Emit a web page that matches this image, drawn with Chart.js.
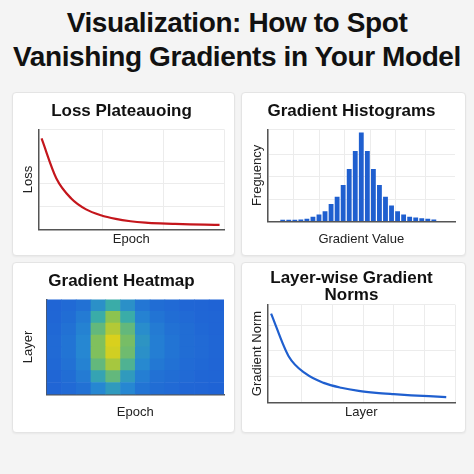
<!DOCTYPE html>
<html><head><meta charset="utf-8">
<script src="https://cdn.jsdelivr.net/npm/chart.js@4"></script>
<style>
body{margin:0;width:474px;height:474px;background:#f4f4f4;font-family:"Liberation Sans",Arial,sans-serif;overflow:hidden;position:relative}
h1{position:absolute;top:6px;left:0;width:474px;margin:0;text-align:center;font-size:28px;line-height:34px;font-weight:bold;color:#111;letter-spacing:-0.4px}
.card{position:absolute;background:#fff;border:1px solid #e4e4e4;border-radius:4px;box-shadow:0 1px 2px rgba(0,0,0,0.05)}
.card canvas{position:absolute;left:0;top:0}
</style></head><body>
<h1>Visualization: How to Spot<br>Vanishing Gradients in Your Model</h1>
<div class="card" style="left:12px;top:92px;width:221px;height:162px"><canvas id="c1"></canvas></div>
<div class="card" style="left:241px;top:92px;width:223px;height:162px"><canvas id="c2"></canvas></div>
<div class="card" style="left:12px;top:262px;width:221px;height:169px"><canvas id="c3"></canvas></div>
<div class="card" style="left:241px;top:262px;width:223px;height:169px"><canvas id="c4"></canvas></div>
<script>
const lossEpochs=[0,1,2,3,4,5,6,7,8,9,10,11,12];
const lossValues=[1,0.56,0.34,0.22,0.155,0.115,0.09,0.075,0.066,0.06,0.055,0.052,0.05];
const histBins=["-15","-14","-13","-12","-11","-10","-9","-8","-7","-6","-5","-4","-3","-2","-1","0","1","2","3","4","5","6","7","8","9","10","11","12","13","14","15"];
const histCounts=[0,0,5,5,5,6,8,15,22,32,55,78,115,165,222,280,222,165,115,78,50,32,22,15,12,10,8,6,0,0,0];
const heatEpochs=["1","2","3","4","5","6","7","8","9","10","11","12"];
const heatLayers=["1","2","3","4","5","6","7","8"];
const heatValues=[ // top row first
[.05,.08,.12,.30,.45,.30,.15,.10,.08,.06,.05,.04],
[.06,.10,.18,.45,.65,.45,.22,.14,.10,.08,.06,.05],
[.07,.12,.22,.55,.80,.55,.28,.18,.12,.10,.07,.05],
[.08,.14,.25,.62,.95,.60,.32,.20,.14,.10,.08,.06],
[.08,.14,.25,.62,.92,.58,.30,.20,.14,.10,.08,.06],
[.07,.12,.22,.55,.75,.50,.26,.16,.12,.09,.07,.05],
[.06,.10,.18,.40,.55,.35,.20,.12,.10,.08,.06,.05],
[.05,.08,.12,.25,.35,.25,.14,.10,.08,.06,.05,.04]];
const normLayers=[0,1,2,3,4,5,6,7,8,9,10];
const normValues=[1,0.52,0.32,0.22,0.165,0.13,0.108,0.093,0.08,0.07,0.06];

function mk(id,w,h){const c=document.getElementById(id);c.width=w;c.height=h;c.style.width=w+'px';c.style.height=h+'px';return c;}
const F='"Liberation Sans",Arial,sans-serif';
function titleOpt(t){return {display:true,text:t,color:'#111',font:{family:F,size:17,weight:'bold'},padding:{top:8,bottom:8}};}
function axTitle(t){return {display:true,text:t,color:'#222',font:{family:F,size:13},padding:{top:2,bottom:2}};}
const grid={color:'#ececec',drawTicks:false};
const border={color:'#555',width:1.5};
const base={responsive:false,animation:false,plugins:{legend:{display:false},tooltip:{enabled:false}}};

new Chart(mk('c1',221,162),{type:'line',data:{datasets:[{data:lossEpochs.map((x,i)=>({x,y:lossValues[i]})),borderColor:'#c4161c',borderWidth:2.2,pointRadius:0,tension:0.4,cubicInterpolationMode:'monotone'}]},
options:{...base,layout:{padding:{left:6,right:10,bottom:6}},plugins:{...base.plugins,title:titleOpt('Loss Plateauoing')},
scales:{x:{type:'linear',min:-0.2,max:12.3,grid,border,ticks:{display:false,stepSize:4.1},title:axTitle('Epoch')},
y:{min:0,max:1.1,grid,border,ticks:{display:false,stepSize:0.25},title:axTitle('Loss')}}}});

new Chart(mk('c2',223,162),{type:'bar',data:{labels:histBins,datasets:[{data:histCounts,backgroundColor:'#1f5fcf',barPercentage:0.8,categoryPercentage:1}]},
options:{...base,layout:{padding:{left:6,right:10,bottom:6}},plugins:{...base.plugins,title:titleOpt('Gradient Histograms')},
scales:{x:{grid:{display:false},border,ticks:{display:false},title:axTitle('Gradient Value')},
xg:{type:'linear',position:'bottom',min:0,max:6.3,display:true,grid,border:{display:false},ticks:{display:false,stepSize:1},title:{display:false}},
y:{min:0,max:290,grid,border,ticks:{display:false,stepSize:70},title:axTitle('Freguency')}}}});

const stops=[[0,[30,92,214]],[0.25,[38,135,210]],[0.45,[58,172,168]],[0.65,[140,195,80]],[1,[230,210,20]]];
function cmap(v){for(let i=1;i<stops.length;i++){if(v<=stops[i][0]){const a=stops[i-1],b=stops[i],t=(v-a[0])/(b[0]-a[0]);return 'rgb('+a[1].map((c,k)=>Math.round(c+(b[1][k]-c)*t)).join(',')+')';}}return 'rgb(230,210,20)';}
const heatSets=heatLayers.map((l,i)=>{const row=heatValues[heatValues.length-1-i];return {data:heatEpochs.map(()=>1),backgroundColor:row.map(cmap),borderWidth:0,barPercentage:1,categoryPercentage:1};});
new Chart(mk('c3',221,169),{type:'bar',data:{labels:heatEpochs,datasets:heatSets},
options:{...base,layout:{padding:{left:6,right:10,bottom:10}},plugins:{...base.plugins,title:titleOpt('Gradient Heatmap')},
scales:{x:{stacked:true,grid:{display:false},border,ticks:{display:false},title:axTitle('Epoch')},
y:{stacked:true,min:0,max:8,grid:{display:false},border,ticks:{display:false},title:axTitle('Layer')}}}});

new Chart(mk('c4',223,169),{type:'line',data:{datasets:[{data:normLayers.map((x,i)=>({x,y:normValues[i]})),borderColor:'#1f5fcf',borderWidth:2.2,pointRadius:0,tension:0.4,cubicInterpolationMode:'monotone'}]},
options:{...base,layout:{padding:{left:6,right:10,bottom:10}},plugins:{...base.plugins,title:{...titleOpt(['Layer-wise Gradient','Norms']),padding:{top:6,bottom:0},font:{family:F,size:17,weight:'bold',lineHeight:1.05}}},
scales:{x:{type:'linear',min:-0.2,max:10.5,grid,border,ticks:{display:false,stepSize:1.75},title:axTitle('Layer')},
y:{min:0,max:1.1,grid,border,ticks:{display:false,stepSize:0.29},title:axTitle('Gradient Norm')}}}});
</script></body></html>
